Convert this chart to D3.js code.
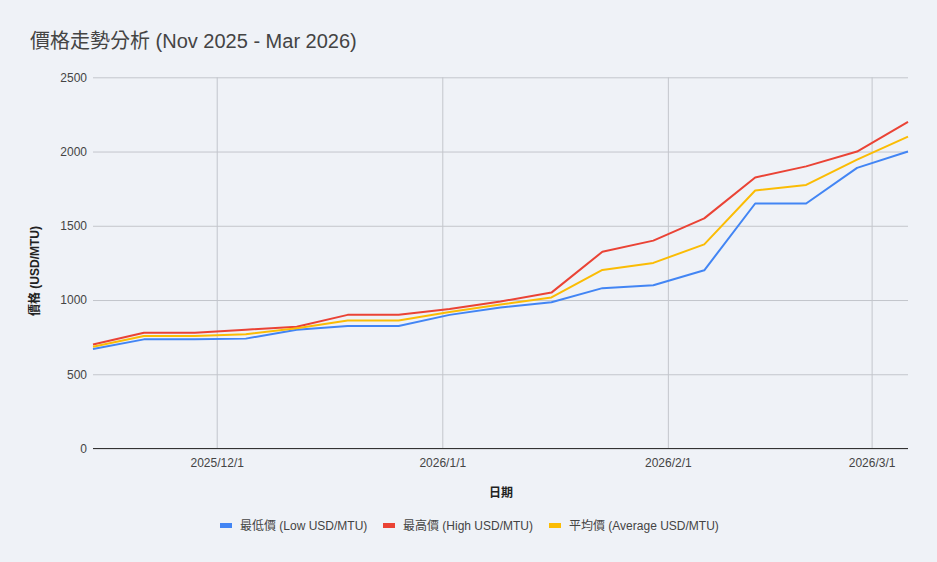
<!DOCTYPE html>
<html>
<head>
<meta charset="utf-8">
<script src="https://cdn.jsdelivr.net/npm/d3@7"></script>
<style>
  html, body { margin: 0; padding: 0; background: #eff2f7; }
  svg { display: block; font-family: "Liberation Sans", Arial, "Noto Sans CJK TC", sans-serif; }
</style>
</head>
<body>
<svg id="chart" width="937" height="562"></svg>
<script>
const dates = ["2025-11-14","2025-11-21","2025-11-28","2025-12-05","2025-12-12","2025-12-19","2025-12-26",
               "2026-01-02","2026-01-09","2026-01-16","2026-01-23","2026-01-30","2026-02-06","2026-02-13",
               "2026-02-20","2026-02-27","2026-03-06"];
const lowValues  = [670, 735, 735, 740, 800, 825, 825, 900, 950, 985, 1080, 1100, 1200, 1650, 1650, 1890, 2000];
const highValues = [700, 780, 780, 800, 820, 900, 900, 940, 990, 1050, 1325, 1400, 1550, 1825, 1900, 2000, 2200];
const avgValues  = [685, 757.5, 757.5, 770, 810, 862.5, 862.5, 920, 970, 1017.5, 1202.5, 1250, 1375, 1737.5, 1775, 1945, 2100];
const seriesNames = ["最低價 (Low USD/MTU)", "最高價 (High USD/MTU)", "平均價 (Average USD/MTU)"];
const seriesColors = ["#4285f4", "#ea4335", "#fbbc04"];
const yTicks = [0, 500, 1000, 1500, 2000, 2500];
const xTickDates = ["2025-12-01", "2026-01-01", "2026-02-01", "2026-03-01"];
const xTickLabels = ["2025/12/1", "2026/1/1", "2026/2/1", "2026/3/1"];
const titleText = "價格走勢分析 (Nov 2025 - Mar 2026)";
const xTitle = "日期";
const yTitle = "價格 (USD/MTU)";

const parse = d3.utcParse("%Y-%m-%d");
const xs = dates.map(parse);
const series = [lowValues, highValues, avgValues];

const svg = d3.select("#chart");
const plotL = 93, plotR = 908, plotT = 77.3, plotB = 448.5;

const x = d3.scaleUtc().domain(d3.extent(xs)).range([plotL, plotR]);
const y = d3.scaleLinear().domain([0, 2500]).range([plotB, plotT]);

svg.append("rect").attr("width", 937).attr("height", 562).attr("fill", "#eff2f7");

// title
svg.append("text").attr("x", 30).attr("y", 48)
  .attr("font-size", 20).attr("fill", "#444").text(titleText);

// horizontal gridlines + y axis labels
const yAxis = d3.axisLeft(y).tickValues(yTicks).tickSize(-(plotR - plotL)).tickPadding(6)
  .tickFormat(d3.format("d"));
const gy = svg.append("g").attr("transform", `translate(${plotL},0)`).call(yAxis);
gy.select(".domain").remove();
gy.selectAll(".tick line").attr("stroke", "#c3c6cc").attr("stroke-width", 1);
gy.selectAll(".tick text").attr("font-size", 12).attr("fill", "#444")
  .attr("font-family", "'Liberation Sans', Arial, sans-serif");

// vertical gridlines + x axis labels
const xAxis = d3.axisBottom(x).tickValues(xTickDates.map(parse)).tickSize(-(plotB - plotT))
  .tickPadding(10).tickFormat((d, i) => xTickLabels[i]);
const gx = svg.append("g").attr("transform", `translate(0,${plotB})`).call(xAxis);
gx.select(".domain").remove();
gx.selectAll(".tick line").attr("stroke", "#c3c6cc").attr("stroke-width", 1);
gx.selectAll(".tick text").attr("font-size", 12).attr("fill", "#444")
  .attr("font-family", "'Liberation Sans', Arial, sans-serif");

// zero baseline
svg.append("line").attr("x1", plotL).attr("x2", plotR).attr("y1", y(0)).attr("y2", y(0))
  .attr("stroke", "#333").attr("stroke-width", 1.2);

// lines
const line = d3.line().x((d, i) => x(xs[i])).y(d => y(d));
series.forEach((vals, k) => {
  svg.append("path").datum(vals).attr("d", line)
    .attr("fill", "none").attr("stroke", seriesColors[k]).attr("stroke-width", 2)
    .attr("stroke-linejoin", "round");
});

// axis titles
svg.append("text").attr("x", 501).attr("y", 497).attr("text-anchor", "middle")
  .attr("font-size", 12).attr("font-weight", "bold").attr("fill", "#222").text(xTitle);
svg.append("text").attr("transform", `translate(39,271) rotate(-90)`)
  .attr("text-anchor", "middle").attr("font-size", 12).attr("font-weight", "bold")
  .attr("fill", "#222").text(yTitle);

// legend
const legendX = [220, 383, 549];
const lg = svg.append("g");
seriesNames.forEach((name, k) => {
  lg.append("rect").attr("x", legendX[k]).attr("y", 523).attr("width", 12).attr("height", 5)
    .attr("fill", seriesColors[k]);
  lg.append("text").attr("x", legendX[k] + 20).attr("y", 530).attr("font-size", 12)
    .attr("fill", "#444").text(name);
});
</script>
</body>
</html>
